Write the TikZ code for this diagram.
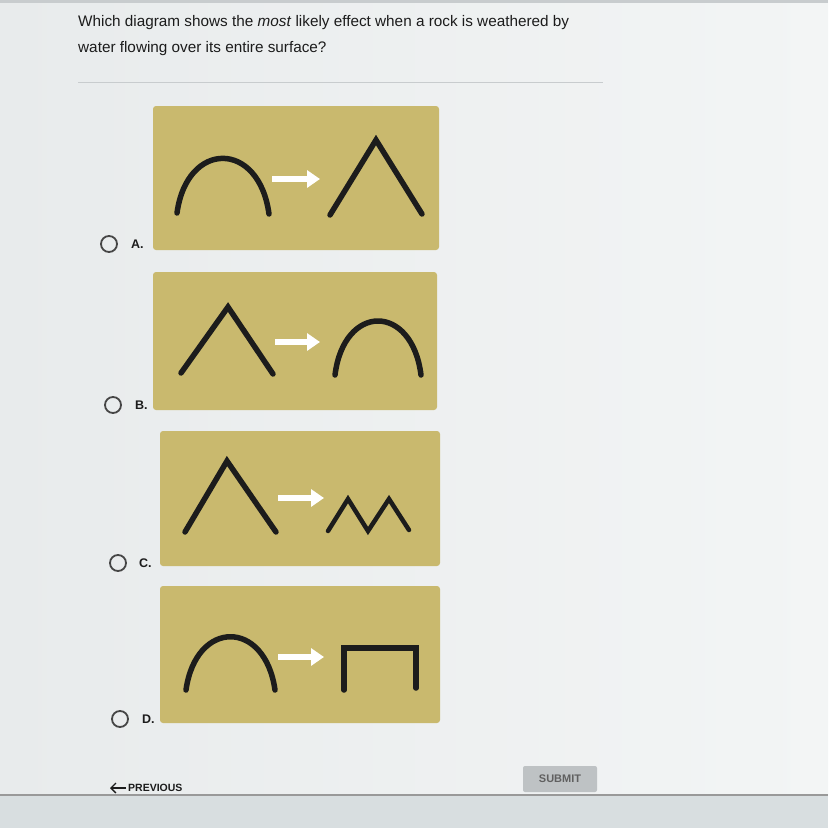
\documentclass[tikz,border=0pt]{standalone}
\usepackage{fontspec}
\setmainfont{Liberation Sans}
\usetikzlibrary{arrows.meta}

\definecolor{screen}{RGB}{232,235,236}
\definecolor{screenlight}{RGB}{243,245,245}
\definecolor{footer}{RGB}{216,222,224}
\definecolor{khaki}{RGB}{201,185,110}
\definecolor{ink}{RGB}{28,28,28}
\definecolor{radiogray}{RGB}{70,70,70}
\definecolor{rulegray}{RGB}{200,204,206}
\definecolor{btngray}{RGB}{190,194,196}

\tikzset{
  panel/.style={fill=khaki, rounded corners=3pt},
  rock/.style={ink, line width=5.5pt, line cap=round, line join=miter},
  flow/.style={white, line width=6pt, -{Triangle[width=17pt,length=13pt]}},
  radio/.style={draw=radiogray, line width=1.8pt, circle, minimum size=16pt, inner sep=0pt},
  letter/.style={anchor=west, inner sep=0pt, font=\fontsize{12.5}{14}\selectfont\bfseries, text=ink},
  question/.style={anchor=base west, inner sep=0pt, text=ink, font=\fontsize{15.3}{18}\selectfont},
}

\begin{document}
\begin{tikzpicture}[x=1pt,y=-1pt]
            \useasboundingbox (0,0) rectangle (828,828);
            % screen background
            \shade[left color=screen, right color=screenlight] (0,0) rectangle (828,795);
            \fill[rulegray] (0,0) rectangle (828,3);
            \fill[footer] (0,795) rectangle (828,828);
            \draw[gray!80, line width=1.2pt] (0,795) -- (828,795);

            % question
            \node[question] (q1) at (78,26)
                {Which diagram shows the \textit{most} likely effect when a rock is weathered by};
            \node[question] (q2) at (78,52)
                {water flowing over its entire surface?};
            \draw[rulegray, line width=1pt] (78,82) -- (603,82);

            % answer panels
            \fill[panel] (153,106) rectangle (439,250);
            \fill[panel] (153,272) rectangle (437,410);
            \fill[panel] (160,431) rectangle (440,566);
            \fill[panel] (160,586) rectangle (440,723);

            % radio buttons
            \node[radio] (ra) at (109,244) {};
            \node[letter] (la) at (131,244) {A.};
            \node[radio] (rb) at (113,405) {};
            \node[letter] (lb) at (135,405) {B.};
            \node[radio] (rc) at (118,563) {};
            \node[letter] (lc) at (139,563) {C.};
            \node[radio] (rd) at (120,719) {};
            \node[letter] (ld) at (142,719) {D.};

            % A: rounded -> peaked
            \draw[rock] (177,213) .. controls (187,140) and (259,140) .. (269,214);
            \coordinate (a1) at (272,179);
            \coordinate (a2) at (320,179);
            \draw[flow] (a1) -- (a2);
            \draw[rock] (330,215) -- (376,140) -- (422,214);

            % B: peaked -> rounded
            \draw[rock] (181,373) -- (228,307) -- (273,374);
            \coordinate (b1) at (275,342);
            \coordinate (b2) at (320,342);
            \draw[flow] (b1) -- (b2);
            \draw[rock] (335,375) .. controls (344,303) and (412,303) .. (421,375);

            % C: one peak -> two small peaks
            \draw[rock] (185,532) -- (227,461) -- (276,532);
            \coordinate (c1) at (278,498);
            \coordinate (c2) at (324,498);
            \draw[flow] (c1) -- (c2);
            \draw[rock, line width=4.5pt] (328,531) -- (348,499) -- (368,531) -- (389,499) -- (409,530);

            % D: rounded -> flat top
            \draw[rock] (186,690) .. controls (196,619) and (265,619) .. (275,690);
            \coordinate (d1) at (278,657);
            \coordinate (d2) at (324,657);
            \draw[flow] (d1) -- (d2);
            \draw[rock] (344,690) -- (344,648) -- (416,648) -- (416,688);

            % footer buttons
            \node[fill=btngray, minimum width=74pt, minimum height=26pt, rounded corners=2pt,
                  text=gray!75!black, font=\fontsize{11}{12}\selectfont\bfseries] (submit) at (560,779) {SUBMIT};
            \node[anchor=west, inner sep=0pt, text=ink, font=\fontsize{10.5}{12}\selectfont\bfseries] (prev) at (128,788) {PREVIOUS};
            \coordinate (pv) at (110,788);
            \draw[ink, line width=1.3pt, -{Straight Barb[length=5pt,width=10pt]}] ([xshift=-2pt]prev.west) -- (pv);
        \end{tikzpicture}
\end{document}
